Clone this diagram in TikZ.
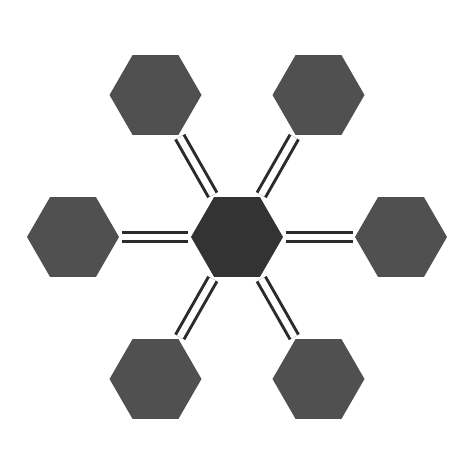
\documentclass[tikz,border=0pt]{standalone}
\usetikzlibrary{shapes.geometric}

\definecolor{hexouter}{HTML}{505050}
\definecolor{hexcore}{HTML}{333333}
\definecolor{bondline}{HTML}{2B2B2B}

\begin{document}
\begin{tikzpicture}
[x=1pt,y=-1pt,
hexa/.style={regular polygon,regular polygon sides=6,minimum size=92pt,
  inner sep=0pt,outer sep=0pt,fill=hexouter},
core/.style={hexa,fill=hexcore},
bond/.style={bondline,line width=3pt,double=white,double distance=6.5pt,
  shorten >=2.5pt,shorten <=2.5pt}]
\useasboundingbox (0,0) rectangle (474,474);

% centre hexagon
\node[core] (c) at (237,237) {};

% outer ring
\node[hexa] (ur) at (318.5,95) {};
\node[hexa] (ul) at (155.5,95) {};
\node[hexa] (l) at (73,237) {};
\node[hexa] (r) at (401,237) {};
\node[hexa] (ll) at (155.5,379) {};
\node[hexa] (lr) at (318.5,379) {};

% double bonds
\draw[bond] (c.0) -- (r.180);
\draw[bond] (c.60) -- (ur.240);
\draw[bond] (c.120) -- (ul.300);
\draw[bond] (c.180) -- (l.0);
\draw[bond] (c.240) -- (ll.60);
\draw[bond] (c.300) -- (lr.120);
\end{tikzpicture}
\end{document}
